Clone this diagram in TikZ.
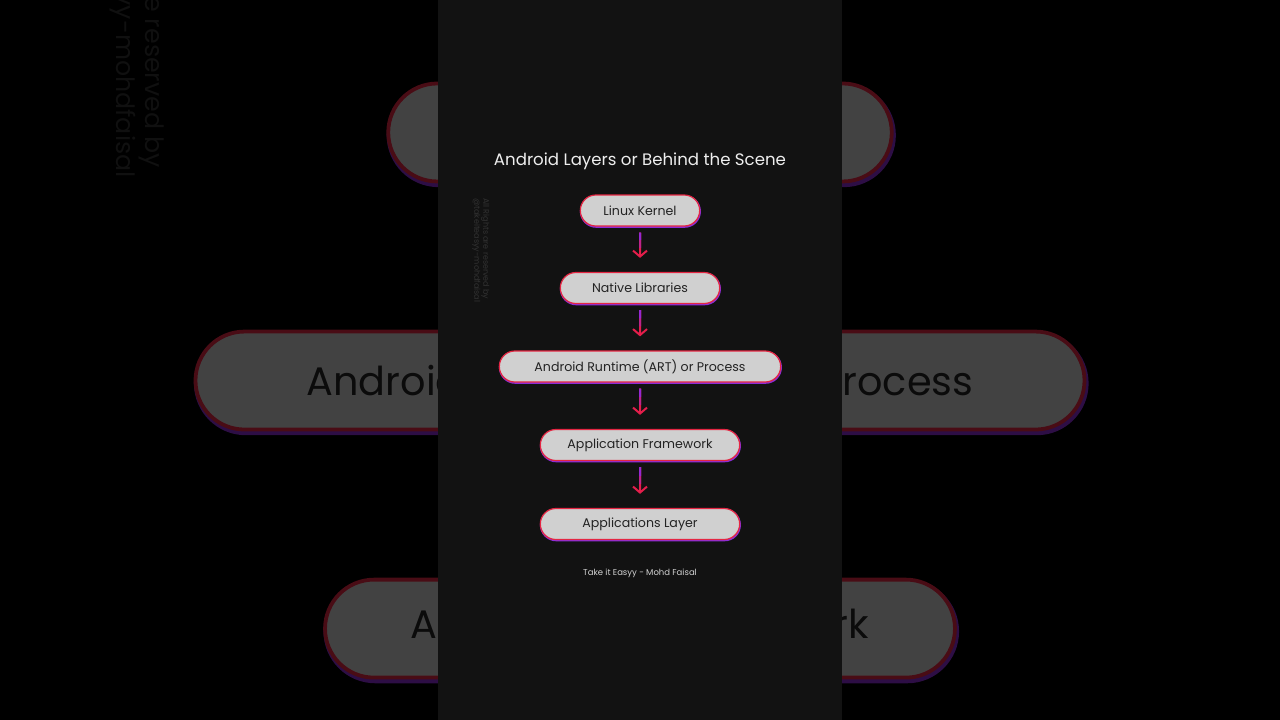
\documentclass[tikz,border=0pt]{standalone}
\usepackage{fontspec}
\setmainfont{Poppins}
\usetikzlibrary{positioning,shapes.misc,arrows.meta}

\definecolor{panelbg}{RGB}{18,18,18}
\definecolor{pillfill}{RGB}{208,208,208}
\definecolor{pilltext}{RGB}{35,35,35}
\definecolor{pillred}{RGB}{228,38,66}
\definecolor{pillpurple}{RGB}{140,45,215}
\definecolor{arrowred}{RGB}{228,30,75}
\definecolor{arrowmid}{RGB}{190,35,140}
\definecolor{arrowpurple}{RGB}{150,40,210}
\definecolor{titlecol}{RGB}{238,238,238}
\definecolor{footcol}{RGB}{210,210,210}
\definecolor{markcol}{RGB}{50,50,50}

\def\lwf{1}

\tikzset{
  pill/.style={rounded rectangle, minimum height=31pt, fill=pillfill, draw=pillred,
    line width=1.2pt*\lwf, text=pilltext, font=\fontsize{12.6}{15}\selectfont,
    preaction={draw=pillpurple, line width=1.8pt*\lwf,
      transform canvas={shift={(0.4pt*\lwf,-0.9pt*\lwf)}}}},
  titletext/.style={text=titlecol, font=\fontsize{16.6}{20}\selectfont},
  foottext/.style={text=footcol, font=\fontsize{8.5}{10}\selectfont},
  marktext/.style={text=markcol, font=\fontsize{8}{9}\selectfont, align=left},
  link/.style={line width=2pt*\lwf, shorten <=6pt}
}

\newcommand{\layerarrow}[2]{%
  \draw[link, arrowred, -{Straight Barb[length=6pt,width=14pt]}, shorten >=14pt] (#1) -- (#2);
  \draw[link, arrowmid, shorten >=24pt] (#1) -- (#2);
  \draw[link, arrowpurple, shorten >=32pt] (#1) -- (#2);
}

\newcommand{\drawlayers}{%
  \node[titletext] (title) at (640,161) {Android Layers or Behind the Scene};

  \foreach \name/\ypos/\pillw/\txt in {kernel/210.5/126/Linux Kernel,
      native/288/166/Native Libraries,
      art/366.5/288/Android Runtime (ART) or Process,
      framework/445/206/Application Framework,
      apps/524/206/Applications Layer} {
    \node[pill, minimum width=\pillw pt] (\name) at (640,\ypos) {\txt};
  }

  \layerarrow{kernel}{native}
  \layerarrow{native}{art}
  \layerarrow{art}{framework}
  \layerarrow{framework}{apps}

  \node[foottext] (footer) at (640,573) {Take it Easyy - Mohd Faisal};
  \node[marktext, rotate=-90, anchor=north west] (mark) at (493,195)
    {All Rights are reserved by\\@takeiteasyy-mohdfaisal};
}

\begin{document}
\begin{tikzpicture}[x=1pt, y=-1pt]
\useasboundingbox (0,0) rectangle (1280,720);
\fill[black] (0,0) rectangle (1280,720);

% enlarged copy behind the panel
\begin{scope}
\clip (0,0) rectangle (1280,720);
\begin{scope}[name prefix=bg-, shift={(640,360)}, scale=3.16, shift={(-640,-360)}, transform shape]
\def\lwf{3.16}
\drawlayers
\end{scope}
\end{scope}
\fill[black, opacity=0.68] (0,0) rectangle (1280,720);

% the panel
\fill[panelbg] (438,0) rectangle (842,720);
\drawlayers
\end{tikzpicture}
\end{document}
